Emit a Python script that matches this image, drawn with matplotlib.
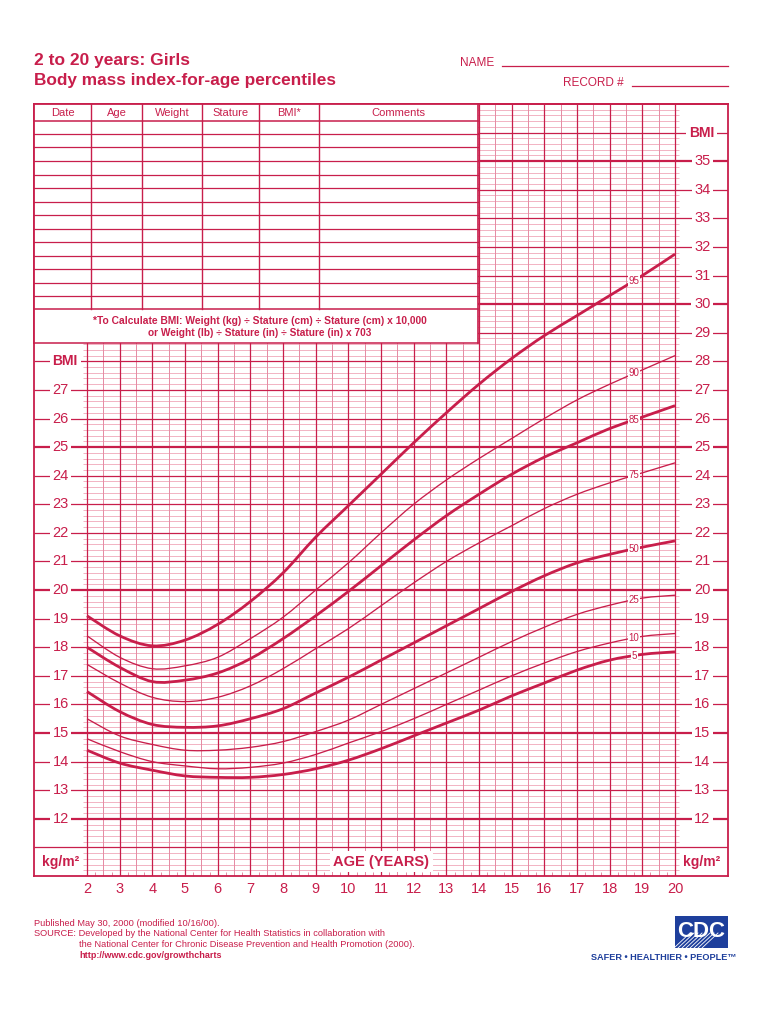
import numpy as np
import matplotlib
matplotlib.use("Agg")
import matplotlib.pyplot as plt
from matplotlib.patches import Rectangle, PathPatch
from matplotlib.path import Path

# ---------------- data ----------------
ages = list(range(2, 21))
p95 = [19.1, 18.4, 18.05, 18.25, 18.8, 19.6, 20.6, 21.85, 22.95, 24.05, 25.15, 26.2, 27.2, 28.1, 28.9, 29.6, 30.3, 31.0, 31.75]
p90 = [18.4, 17.65, 17.25, 17.35, 17.65, 18.3, 19.05, 20.0, 20.95, 22.0, 23.0, 23.85, 24.6, 25.3, 26.0, 26.65, 27.2, 27.7, 28.2]
p85 = [18.0, 17.3, 16.8, 16.85, 17.1, 17.6, 18.3, 19.1, 19.95, 20.85, 21.75, 22.6, 23.35, 24.05, 24.65, 25.15, 25.65, 26.05, 26.45]
p75 = [17.4, 16.75, 16.25, 16.1, 16.25, 16.65, 17.25, 17.95, 18.65, 19.45, 20.25, 21.0, 21.65, 22.25, 22.85, 23.35, 23.75, 24.1, 24.45]
p50 = [16.45, 15.75, 15.3, 15.2, 15.25, 15.5, 15.85, 16.4, 16.95, 17.55, 18.15, 18.75, 19.35, 19.95, 20.5, 20.95, 21.25, 21.5, 21.72]
p25 = [15.5, 14.9, 14.6, 14.4, 14.4, 14.5, 14.7, 15.05, 15.45, 16.0, 16.55, 17.1, 17.65, 18.2, 18.7, 19.15, 19.47, 19.72, 19.82]
p10 = [14.8, 14.35, 14.0, 13.85, 13.75, 13.8, 13.95, 14.25, 14.65, 15.05, 15.5, 16.0, 16.5, 17.0, 17.45, 17.85, 18.15, 18.38, 18.48]
p5 = [14.4, 13.95, 13.7, 13.5, 13.45, 13.45, 13.55, 13.75, 14.05, 14.45, 14.9, 15.35, 15.8, 16.3, 16.75, 17.2, 17.55, 17.75, 17.84]

curve_names = ["5", "10", "25", "50", "75", "85", "90", "95"]
curve_values = [p5, p10, p25, p50, p75, p85, p90, p95]
thick_curves = ["5", "50", "85", "95"]

left_ticks = list(range(12, 28))    # 12..27, "BMI" at 28
right_ticks = list(range(12, 36))   # 12..35, "BMI" at 36
table_headers = ["Date", "Age", "Weight", "Stature", "BMI*", "Comments"]

# ---------------- style ----------------
RED = "#C81E4B"
PINK = "#F2B3C3"
MIDPINK = "#E58AA3"
BLUE = "#1E3F9C"
plt.rcParams["font.family"] = ["Liberation Sans", "DejaVu Sans"]

W, H = 768, 1024
fig = plt.figure(figsize=(W / 100, H / 100), dpi=100)
fig.patch.set_facecolor("white")

# chart box in pixels
BL, BR, BT, BB = 34, 728, 104, 876
PX_YEAR = (675 - 87) / 18.0
X0 = 2 - (87 - BL) / PX_YEAR
X1 = 20 + (BR - 675) / PX_YEAR

ax = fig.add_axes([BL / W, 1 - BB / H, (BR - BL) / W, (BB - BT) / H])
ax.set_xlim(X0, X1)
ax.set_ylim(10, 37)
ax.set_facecolor("white")

# grid
minor_y = [v for v in np.round(np.arange(10.2, 37, 0.2), 2) if abs(v - round(v)) > 1e-6]
ax.hlines(minor_y, 1.88, 20.12, color=PINK, lw=0.7, zorder=1)
ax.vlines(np.arange(2.5, 20, 1.0), 10, 37, color=MIDPINK, lw=0.7, zorder=1.5)
ax.vlines(ages, 10, 37, color=RED, lw=0.9, zorder=2)
for v in range(11, 37):
    lw = 1.6 if (v % 5 == 0 or v == 12) else 0.9
    ax.hlines(v, X0, X1, color=RED, lw=lw, zorder=2.2)
qt = [q for q in np.arange(2.25, 20, 0.5)]
ax.vlines(qt, 10, 10.15, color=MIDPINK, lw=0.7, zorder=1.5)


def smooth_path(xs, ys):
    """Catmull-Rom curve through the data points, as cubic Bezier segments."""
    pts = np.column_stack([xs, ys]).astype(float)
    ext = np.vstack([pts[0], pts, pts[-1]])
    verts = [tuple(pts[0])]
    codes = [Path.MOVETO]
    for i in range(1, len(ext) - 2):
        p0, p1, p2, p3 = ext[i - 1], ext[i], ext[i + 1], ext[i + 2]
        c1 = p1 + (p2 - p0) / 6.0
        c2 = p2 - (p3 - p1) / 6.0
        verts += [tuple(c1), tuple(c2), tuple(p2)]
        codes += [Path.CURVE4] * 3
    return Path(verts, codes)


# percentile curves
for name, vals in zip(curve_names, curve_values):
    lw = 2.0 if name in thick_curves else 0.95
    ax.add_patch(PathPatch(smooth_path(ages, vals), fill=False, ec=RED, lw=lw,
                           zorder=4, capstyle="butt"))
    ax.text(18.75, np.interp(18.75, ages, vals), name, fontsize=7, color=RED,
            ha="center", va="center", zorder=4.5,
            bbox=dict(fc="white", ec="none", pad=0.6))

# axis labels inside the label columns
lab_kw = dict(fontsize=10.5, color=RED, ha="center", va="center", zorder=5,
              bbox=dict(fc="white", ec="none", pad=2.0))
for v in left_ticks:
    ax.text(1.19, v, str(v), **lab_kw)
for v in right_ticks:
    ax.text(20.84, v, str(v), **lab_kw)
ax.text(1.33, 28, "BMI", fontweight="bold", **{**lab_kw, "fontsize": 10})
ax.text(20.82, 36, "BMI", fontweight="bold", **{**lab_kw, "fontsize": 10})
ax.text(1.2, 10.48, "kg/m²", fontweight="bold", fontsize=10, color=RED,
        ha="center", va="center", zorder=5, bbox=dict(fc="white", ec="none", pad=1.5))
ax.text(20.82, 10.48, "kg/m²", fontweight="bold", fontsize=10, color=RED,
        ha="center", va="center", zorder=5, bbox=dict(fc="white", ec="none", pad=1.5))
ax.text(11.0, 10.5, "AGE (YEARS)", fontweight="bold", fontsize=10.5, color=RED,
        ha="center", va="center", zorder=5, bbox=dict(fc="white", ec="none", pad=2.5))

ax.set_xticks(ages)
ax.set_xticklabels([str(a) for a in ages], fontsize=10.5, color=RED)
ax.tick_params(axis="x", length=0, pad=4)
ax.set_yticks([])
for sp in ax.spines.values():
    sp.set_color(RED)
    sp.set_linewidth(1.3)

# ---------------- overlay in pixel coordinates ----------------
ov = fig.add_axes([0, 0, 1, 1], zorder=10)
ov.set_xlim(0, W)
ov.set_ylim(H, 0)
ov.axis("off")
ov.patch.set_alpha(0)

# record table
TR = 478
ov.add_patch(Rectangle((BL, BT), TR - BL, 343 - BT, fc="white", ec="none", zorder=1))
row_lines = [121, 134, 147, 161, 175, 188, 202, 215, 229, 242, 256, 269, 283, 296, 309, 343]
for y in row_lines:
    ov.plot([BL, TR], [y, y], color=RED, lw=1.1 if y in (121, 309, 343) else 0.9, zorder=2)
ov.plot([BL, BR], [BT, BT], color=RED, lw=1.3, zorder=2)
ov.plot([BL, BL], [BT, 343], color=RED, lw=1.3, zorder=2)
ov.plot([TR, TR], [BT, 343], color=RED, lw=1.2, zorder=2)
col_edges = [34, 91, 142, 202, 259, 319, 478]
for x in col_edges[1:-1]:
    ov.plot([x, x], [BT, 309], color=RED, lw=1.0, zorder=2)
for i, hd in enumerate(table_headers):
    ov.text((col_edges[i] + col_edges[i + 1]) / 2, 113, hd, fontsize=8, color=RED,
            ha="center", va="center", zorder=3)
ov.text(260, 321.5, "*To Calculate BMI: Weight (kg) ÷ Stature (cm) ÷ Stature (cm) x 10,000",
        fontsize=7.4, fontweight="bold", color=RED, ha="center", va="center", zorder=3)
ov.text(260, 333.5, "or Weight (lb) ÷ Stature (in) ÷ Stature (in) x 703",
        fontsize=7.3, fontweight="bold", color=RED, ha="center", va="center", zorder=3)

# header
ov.text(34, 65.5, "2 to 20 years: Girls", fontsize=12.5, fontweight="bold", color=RED,
        ha="left", va="baseline")
ov.text(34, 84.5, "Body mass index-for-age percentiles", fontsize=12.4, fontweight="bold",
        color=RED, ha="left", va="baseline")
ov.text(494, 65.5, "NAME", fontsize=8.5, color=RED, ha="right", va="baseline")
ov.plot([502, BR], [66, 66], color=RED, lw=0.9)
ov.text(624, 85.5, "RECORD #", fontsize=8.5, color=RED, ha="right", va="baseline")
ov.plot([632, BR], [86, 86], color=RED, lw=0.9)

# footer
foot_kw = dict(fontsize=6.7, color=RED, ha="left", va="center")
ov.text(34, 923, "Published May 30, 2000 (modified 10/16/00).", **foot_kw)
ov.text(34, 934, "SOURCE: Developed by the National Center for Health Statistics in collaboration with", **foot_kw)
ov.text(79, 944.5, "the National Center for Chronic Disease Prevention and Health Promotion (2000).", **foot_kw)
ov.text(79, 955, "http://www.cdc.gov/growthcharts", fontweight="bold", **{**foot_kw, "fontsize": 6.5})

# CDC logo
logo = Rectangle((675, 916), 53, 32, fc=BLUE, ec="none")
ov.add_patch(logo)
for k in range(8):
    ln, = ov.plot([674 + 4 * k, 690 + 4 * k], [948, 933], color="white", lw=0.6)
    ln.set_clip_path(logo)
ov.text(701.5, 931.5, "CDC", fontsize=16, fontweight="bold", color="white",
        ha="center", va="center")
ov.text(664, 957, "SAFER • HEALTHIER • PEOPLE™", fontsize=6.6, fontweight="bold", color=BLUE,
        ha="center", va="center")

fig.savefig("out.png", dpi=100, facecolor="white")
